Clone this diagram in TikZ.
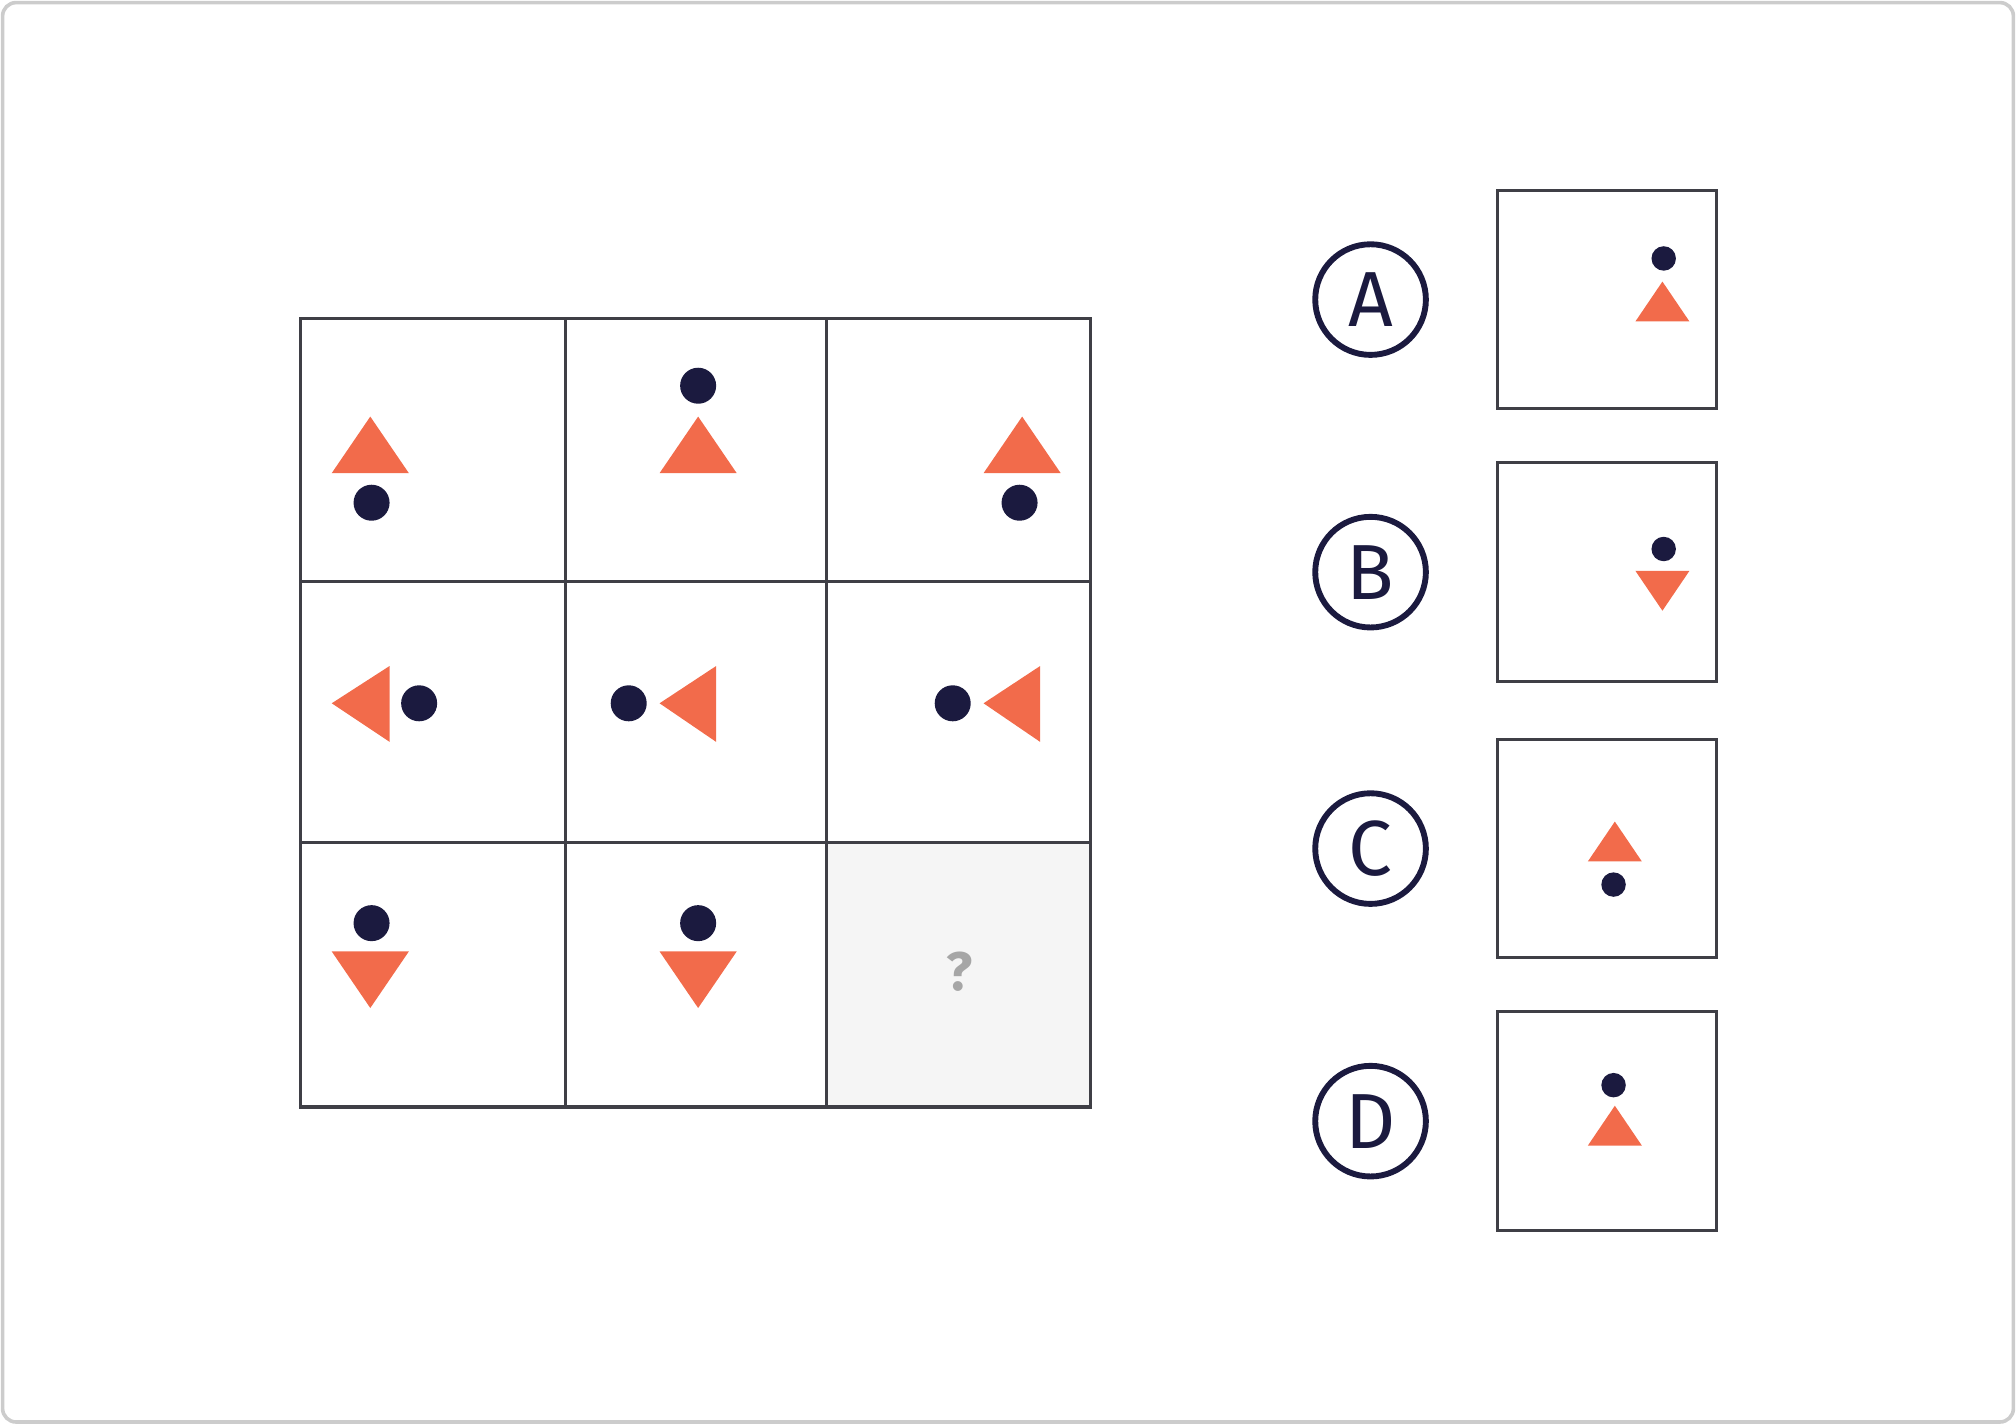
\documentclass[tikz,border=0pt]{standalone}
\usepackage{xcolor}
\usepackage{fontspec}
\setsansfont{Fira Sans}
\usetikzlibrary{calc}
\definecolor{navy}{HTML}{1B1A3F}
\definecolor{coral}{HTML}{F26B4B}
\definecolor{gridline}{HTML}{3F3F46}
\tikzset{
	dot/.style={circle, fill=navy, inner sep=0pt, minimum size=#1},
	dot/.default=0.28cm,
	tri/.style={fill=coral, draw=none},
	cellbox/.style={draw=gridline, line width=0.7pt},
	optlabel/.style={circle, draw=navy, line width=1.3pt, minimum size=0.86cm, inner sep=0pt, font=\sffamily\LARGE, text=navy}
}

\begin{document}
\begin{tikzpicture}[x=0.01cm, y=-0.01cm, line join=miter]
    \useasboundingbox (0,0) rectangle (1568,1108);
    \draw[rounded corners=3pt, draw=black!20, line width=0.8pt] (2,2) rectangle (1566,1106);

    % question cell background
    \fill[black!4] (643,655) rectangle (848,861);

    % grid
    \draw[cellbox] (234,248) rectangle (848,861);
    \draw[cellbox] (440,248) -- (440,861);
    \draw[cellbox] (643,248) -- (643,861);
    \draw[cellbox] (234,452) -- (848,452);
    \draw[cellbox] (234,655) -- (848,655);

    % row 1
    \fill[tri] (288,324) -- (318,368) -- (258,368) -- cycle;
    \node[dot] (d11) at (289,391) {};
    \node[dot] (d12) at (543,300) {};
    \fill[tri] (543,324) -- (573,368) -- (513,368) -- cycle;
    \fill[tri] (795,324) -- (825,368) -- (765,368) -- cycle;
    \node[dot] (d13) at (793,391) {};

    % row 2
    \fill[tri] (258,547) -- (303,518) -- (303,577) -- cycle;
    \node[dot] (d21) at (326,547) {};
    \node[dot] (d22) at (489,547) {};
    \fill[tri] (513,547) -- (557,518) -- (557,577) -- cycle;
    \node[dot] (d23) at (741,547) {};
    \fill[tri] (765,547) -- (809,518) -- (809,577) -- cycle;

    % row 3
    \node[dot] (d31) at (289,718) {};
    \fill[tri] (258,740) -- (318,740) -- (288,784) -- cycle;
    \node[dot] (d32) at (543,718) {};
    \fill[tri] (513,740) -- (573,740) -- (543,784) -- cycle;
    \node[font=\sffamily\bfseries\large, text=black!35] (qmark) at (746,756) {?};

    % options
    \foreach \lbl/\yy in {A/233, B/445, C/660, D/872}
        \node[optlabel] (opt\lbl) at (1066,\yy) {\lbl};
    \foreach \lbl/\yy in {A/148, B/360, C/575, D/787}
        \draw[cellbox] (1165,\yy) rectangle (1335,\yy+170);

    \node[dot=0.19cm] (dA) at (1294,201) {};
    \fill[tri] (1293,219) -- (1314,250) -- (1272,250) -- cycle;
    \node[dot=0.19cm] (dB) at (1294,427) {};
    \fill[tri] (1272,444) -- (1314,444) -- (1293,475) -- cycle;
    \fill[tri] (1256,639) -- (1277,670) -- (1235,670) -- cycle;
    \node[dot=0.19cm] (dC) at (1255,688) {};
    \node[dot=0.19cm] (dD) at (1255,844) {};
    \fill[tri] (1256,860) -- (1277,891) -- (1235,891) -- cycle;
\end{tikzpicture}
\end{document}
